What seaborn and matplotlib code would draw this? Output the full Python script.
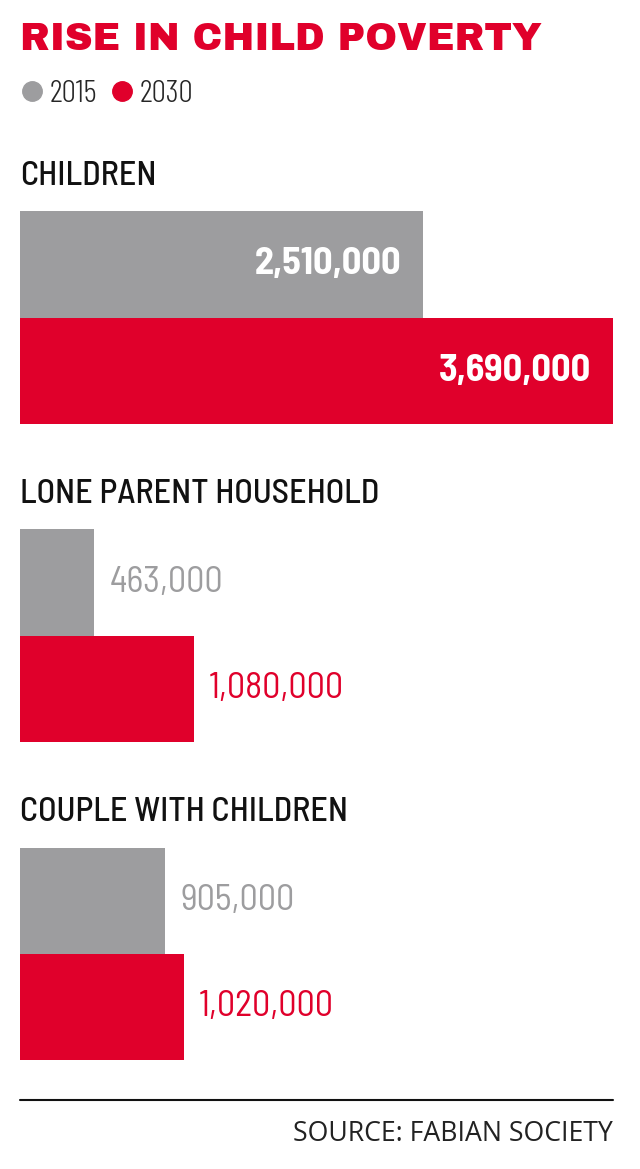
import numpy as np
import pandas as pd
import matplotlib
matplotlib.use("Agg")
import matplotlib.pyplot as plt
from matplotlib.lines import Line2D
import seaborn as sns

# data
years = ["2015", "2030"]
groups = ["CHILDREN", "LONE PARENT HOUSEHOLD", "COUPLE WITH CHILDREN"]
children = [2510000, 3690000]
lone_parent = [463000, 1080000]
couple = [905000, 1020000]
values = [children, lone_parent, couple]

GREY = "#9d9d9f"
RED = "#e0002b"
palette = {"2015": GREY, "2030": RED}

# condensed DIN-ish faces, fall back to DejaVu Sans Condensed
COND = ["Barlow Semi Condensed", "DejaVu Sans"]
NARROW = ["Barlow Condensed", "DejaVu Sans"]
HEAVY = ["Archivo Black", "DejaVu Sans"]

sns.set_theme(style="white")
plt.rcParams["font.family"] = ["DejaVu Sans"]
plt.rcParams["font.stretch"] = "condensed"

W, H = 640, 1169
fig = plt.figure(figsize=(W / 100, H / 100), dpi=100)
fig.patch.set_facecolor("white")


def fy(px):
    # pixel from top -> figure fraction
    return 1 - px / H


def fit_width(t, px):
    # scale a text so it spans px pixels
    fig.canvas.draw()
    w = t.get_window_extent().width
    t.set_fontsize(t.get_fontsize() * px / w)


# title + legend
title = fig.text(20 / W, fy(50), "RISE IN CHILD POVERTY", color=RED, fontsize=26,
                 family=HEAVY, fontweight="bold", ha="left", va="baseline")
fit_width(title, 520)

handles = [Line2D([], [], marker="o", ls="", color=palette[y], markersize=14) for y in years]
fig.legend(handles, years, loc="center left", bbox_to_anchor=(19 / W, fy(94)),
           ncol=2, frameon=False, handletextpad=0.15, columnspacing=0.4,
           handlelength=0.8, borderpad=0, borderaxespad=0,
           prop={"family": NARROW, "size": 23, "weight": 300})

# panels: header baseline, bar top, bar bottom (pixels)
panels = [(185, 211, 424), (503, 529, 742), (821, 848, 1060)]
xmax = max(children)
left, right = 20, 613

for g, (name, vals, (hy, top, bot)) in enumerate(zip(groups, values, panels)):
    fig.text(left / W, fy(hy), name, fontsize=24.5, ha="left", va="baseline",
             color="#111111", family=COND, fontweight=500)
    ax = fig.add_axes([left / W, fy(bot), (right - left) / W, (bot - top) / H])
    df = pd.DataFrame({"year": years, "value": vals})
    sns.barplot(data=df, x="value", y="year", hue="year", palette=palette,
                order=years, orient="h", width=1.0, legend=False,
                saturation=1, linewidth=0, ax=ax)
    ax.set_xlim(0, xmax)
    ax.set_ylim(1.5, -0.5)
    ax.axis("off")
    for i, (yr, v) in enumerate(zip(years, vals)):
        label = f"{v:,}"
        if g == 0:
            ax.annotate(label, xy=(v, i), xytext=(-16, 0), textcoords="offset points",
                        ha="right", va="center", color="white", fontsize=27.5,
                        fontweight="bold", family=COND)
        else:
            ax.annotate(label, xy=(v, i), xytext=(11, 0), textcoords="offset points",
                        ha="left", va="center", color=palette[yr], fontsize=26,
                        family=COND)

# bottom rule + source
fig.add_artist(Line2D([left / W, right / W], [fy(1100), fy(1100)],
                      color="#111111", lw=1.5))
src = fig.text(right / W, fy(1141), "SOURCE: FABIAN SOCIETY", ha="right", va="baseline",
               fontsize=19, color="#222222", family=["Open Sans", "DejaVu Sans"],
               fontstretch="normal")
fit_width(src, 320)

fig.savefig("out.png", dpi=100, facecolor="white")
